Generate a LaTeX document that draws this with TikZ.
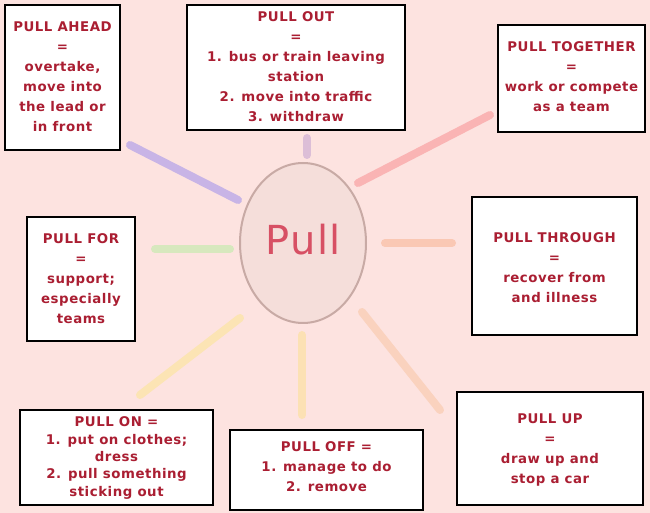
\documentclass[tikz,border=0pt]{standalone}
\usepackage{fontspec}
\setmainfont{DejaVu Sans}[LetterSpace=4]
\begin{document}
\begin{tikzpicture}[x=0.75pt,y=-0.75pt,
  txt/.style={text={rgb,255:red,170;green,30;blue,50}, font=\bfseries\fontsize{10}{15}\selectfont, align=center},
  bx/.style={draw=black, line width=1pt, fill=white},
  spoke/.style={line width=6pt, line cap=round}]
\definecolor{bg}{HTML}{FDE3E0}
\fill[bg] (0,0) rectangle (650,513);
\useasboundingbox (0,0) rectangle (650,513);
% boxes
\draw[bx] (5,5) rectangle (120,150);
\node[txt] (ahead) at (62.5,77) {PULL AHEAD\\=\\overtake,\\move into\\the lead or\\in front};
\draw[bx] (187,5) rectangle (405,130);
\node[txt] (out) at (296,67) {PULL OUT\\=\\1. bus or train leaving\\station\\2. move into traffic\\3. withdraw};
\draw[bx] (498,25) rectangle (645,132);
\node[txt] (together) at (571.5,77) {PULL TOGETHER\\=\\work or compete\\as a team};
\draw[bx] (27,217) rectangle (135,341);
\node[txt] (for) at (81,279) {PULL FOR\\=\\support;\\especially\\teams};
\draw[bx] (472,197) rectangle (637,335);
\node[txt] (through) at (554.5,268) {PULL THROUGH\\=\\recover from\\and illness};
\draw[bx] (20,410) rectangle (213,505);
\node[txt, font=\bfseries\fontsize{10}{13}\selectfont] (on) at (116.5,458) {PULL ON =\\1. put on clothes;\\dress\\2. pull something\\sticking out};
\draw[bx] (230,430) rectangle (423,510);
\node[txt] (off) at (326.5,467) {PULL OFF =\\1. manage to do\\2. remove};
\draw[bx] (457,392) rectangle (643,505);
\node[txt] (up) at (550,450) {PULL UP\\=\\draw up and\\stop a car};
% spokes
\coordinate (s1a) at (130,145); \coordinate (s1b) at (238,200);
\coordinate (s2a) at (307,138); \coordinate (s2b) at (307,155);
\coordinate (s3a) at (358,183); \coordinate (s3b) at (490,115);
\coordinate (s4a) at (155,249); \coordinate (s4b) at (230,249);
\coordinate (s5a) at (385,243); \coordinate (s5b) at (452,243);
\coordinate (s6a) at (240,318); \coordinate (s6b) at (140,395);
\coordinate (s7a) at (302,335); \coordinate (s7b) at (302,415);
\coordinate (s8a) at (362,312); \coordinate (s8b) at (440,410);
\draw[spoke, draw={rgb,255:red,200;green,180;blue,230}] (s1a) -- (s1b);
\draw[spoke, draw={rgb,255:red,220;green,190;blue,215}] (s2a) -- (s2b);
\draw[spoke, draw={rgb,255:red,250;green,180;blue,180}] (s3a) -- (s3b);
\draw[spoke, draw={rgb,255:red,215;green,232;blue,190}] (s4a) -- (s4b);
\draw[spoke, draw={rgb,255:red,250;green,200;blue,180}] (s5a) -- (s5b);
\draw[spoke, draw={rgb,255:red,252;green,228;blue,180}] (s6a) -- (s6b);
\draw[spoke, draw={rgb,255:red,252;green,225;blue,180}] (s7a) -- (s7b);
\draw[spoke, draw={rgb,255:red,250;green,210;blue,190}] (s8a) -- (s8b);
% center
\draw[draw={rgb,255:red,200;green,170;blue,165}, line width=1.5pt, fill={rgb,255:red,245;green,222;blue,218}] (303,243) ellipse [x radius=63, y radius=80];
\node[text={rgb,255:red,215;green,80;blue,100}, font=\fontsize{30}{30}\selectfont] (pull) at (303,240) {Pull};
\end{tikzpicture}
\end{document}
